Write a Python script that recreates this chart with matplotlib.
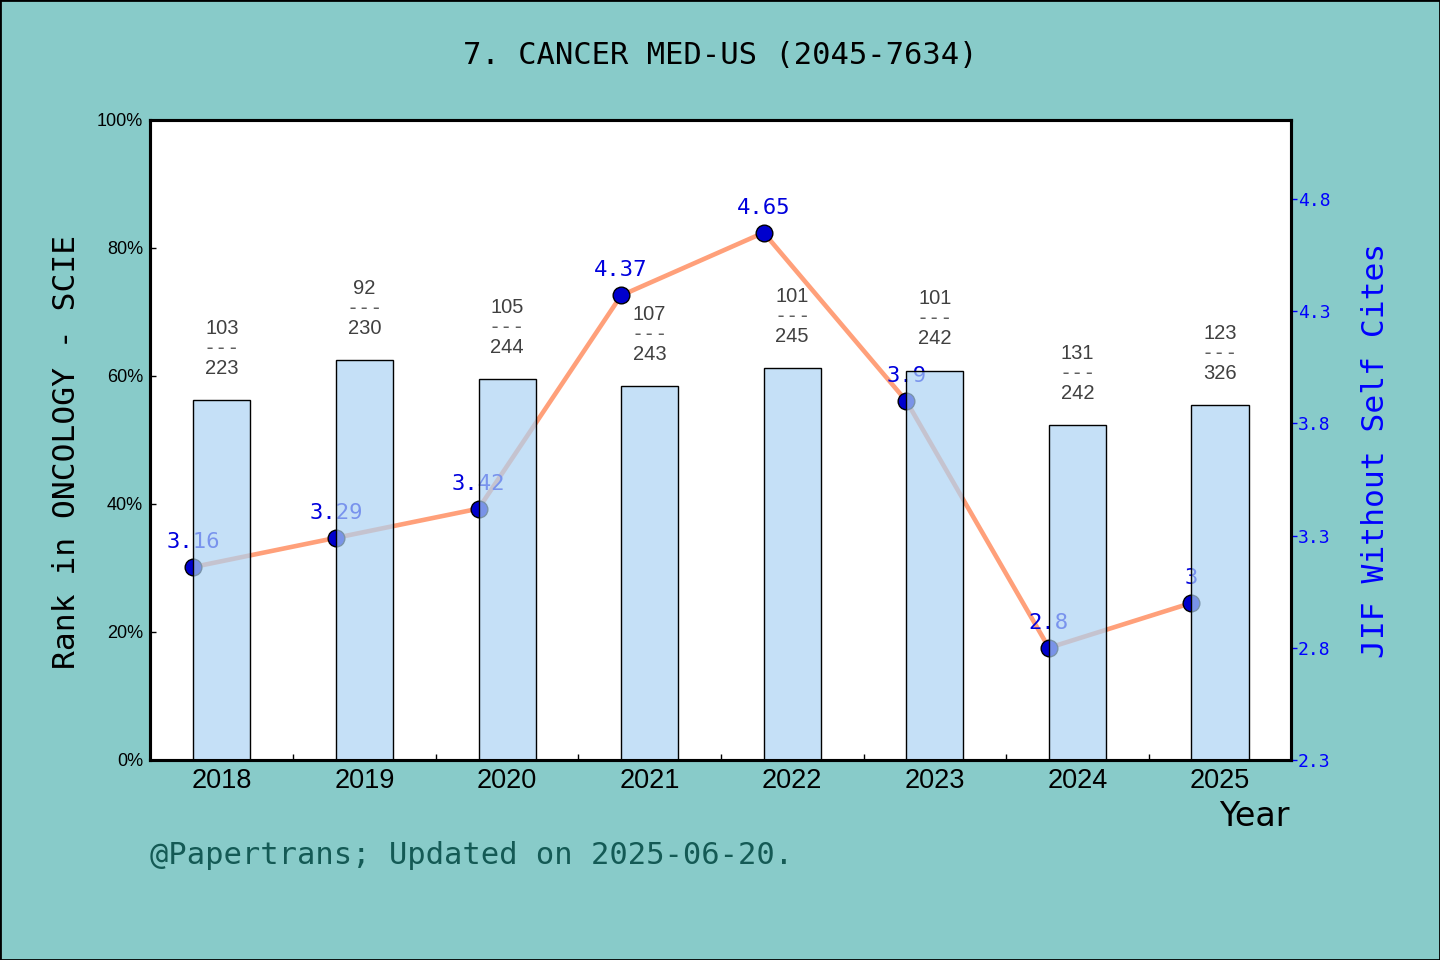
import matplotlib
matplotlib.use("Agg")
import matplotlib.pyplot as plt
import matplotlib.patches as mpatches
from matplotlib.ticker import FixedLocator, FuncFormatter
import numpy as np

# ---- data ----
years = ["2018", "2019", "2020", "2021", "2022", "2023", "2024", "2025"]
bar_pct = [56.25, 62.5, 59.5, 58.4, 61.2, 60.8, 52.3, 55.4]
ranks = [103, 92, 105, 107, 101, 101, 131, 123]
totals = [223, 230, 244, 243, 245, 242, 242, 326]
jif = [3.16, 3.29, 3.42, 4.37, 4.65, 3.9, 2.8, 3.0]
jif_labels = ["3.16", "3.29", "3.42", "4.37", "4.65", "3.9", "2.8", "3"]
right_ticks = [2.3, 2.8, 3.3, 3.8, 4.3, 4.8]

BG = "#88CBC9"
MONO = "DejaVu Sans Mono"

fig = plt.figure(figsize=(14.4, 9.6), dpi=100, facecolor=BG)
ax = fig.add_axes([150/1440, 1-760/960, (1291-150)/1440, (760-120)/960])
ax2 = ax.twinx()

# bars on top of the line: put ax above ax2
ax.set_zorder(ax2.get_zorder() + 1)
ax.patch.set_visible(False)
ax2.patch.set_visible(True)
ax2.patch.set_facecolor("white")

x = np.arange(len(years))

# line on right axis
ax2.plot(x, jif, color="#FFA07A", lw=3.3, zorder=2, solid_capstyle="round")
ax2.plot(x, jif, "o", color="#0000CD", markersize=12, markeredgecolor="black",
         markeredgewidth=1.0, zorder=3)
for xi, v, lab in zip(x, jif, jif_labels):
    ax2.annotate(lab, (xi, v), xytext=(0, 18), textcoords="offset points",
                 ha="center", va="center", color="#0000DD", fontsize=16,
                 family=MONO, zorder=4)
ax2.set_ylim(2.3, 5.152)
ax2.yaxis.set_major_locator(FixedLocator(right_ticks))
ax2.yaxis.set_major_formatter(FuncFormatter(lambda v, p: f"{v:.1f}"))
ax2.tick_params(axis="y", direction="out", length=4, width=1, pad=1,
                colors="#0000FF", labelsize=13)
for lbl in ax2.get_yticklabels():
    lbl.set_family(MONO)

# bars on left axis
ax.bar(x, bar_pct, width=0.4, align="edge",
       color=(173/255, 211/255, 244/255, 0.7),
       edgecolor="black", linewidth=1.0, zorder=2)
for xi, h, r, t in zip(x, bar_pct, ranks, totals):
    cx = xi + 0.2
    ax.annotate(str(t), (cx, h), xytext=(0, 23), textcoords="offset points",
                ha="center", va="center", fontsize=14.5, color="#404040",
                family="Liberation Sans")
    ax.annotate("---", (cx, h), xytext=(0, 37.4), textcoords="offset points",
                ha="center", va="center", fontsize=14.5, color="#606060",
                family=MONO)
    ax.annotate(str(r), (cx, h), xytext=(0, 51.8), textcoords="offset points",
                ha="center", va="center", fontsize=14.5, color="#404040",
                family="Liberation Sans")

ax.set_xlim(-0.304, 7.698)
ax.set_ylim(0, 100)
ax.yaxis.set_major_locator(FixedLocator([0, 20, 40, 60, 80, 100]))
ax.yaxis.set_major_formatter(FuncFormatter(lambda v, p: f"{v:.0f}%"))
ax.tick_params(axis="y", direction="in", length=4, width=1, pad=5, labelsize=13)
for lbl in ax.get_yticklabels():
    lbl.set_family("Liberation Sans")

ax.set_xticks(x + 0.2)
ax.set_xticklabels(years, fontsize=19.5, family="Liberation Sans")
ax.tick_params(axis="x", which="major", length=0, pad=6)
ax.set_xticks(x[:-1] + 0.7, minor=True)
ax.tick_params(axis="x", which="minor", direction="in", length=4, width=1)

for a in (ax, ax2):
    for s in a.spines.values():
        s.set_linewidth(2.2)
        s.set_color("black")

# texts
fig.text(0.5, 1-56/960, "7. CANCER MED-US (2045-7634)", ha="center", va="center",
         fontsize=22, family=MONO, color="black")
fig.text(67/1440, 1-452/960, "Rank in ONCOLOGY - SCIE", rotation=90,
         ha="center", va="center", fontsize=22.5, family=MONO, color="black")
fig.text(1375/1440, 1-450/960, "JIF Without Self Cites", rotation=90,
         ha="center", va="center", fontsize=22.5, family=MONO, color="#0000FF")
fig.text(1290/1440, 1-817/960, "Year", ha="right", va="center", fontsize=24,
         family="DejaVu Sans", color="black")
fig.text(150/1440, 1-855/960, "@Papertrans; Updated on 2025-06-20.",
         ha="left", va="center", fontsize=22, family=MONO, color="#145A55")

fig.patches.append(mpatches.Rectangle((0, 0), 1, 1, transform=fig.transFigure,
                                      fill=False, edgecolor="black", lw=2))

fig.savefig("out.png", dpi=100, facecolor=BG)
